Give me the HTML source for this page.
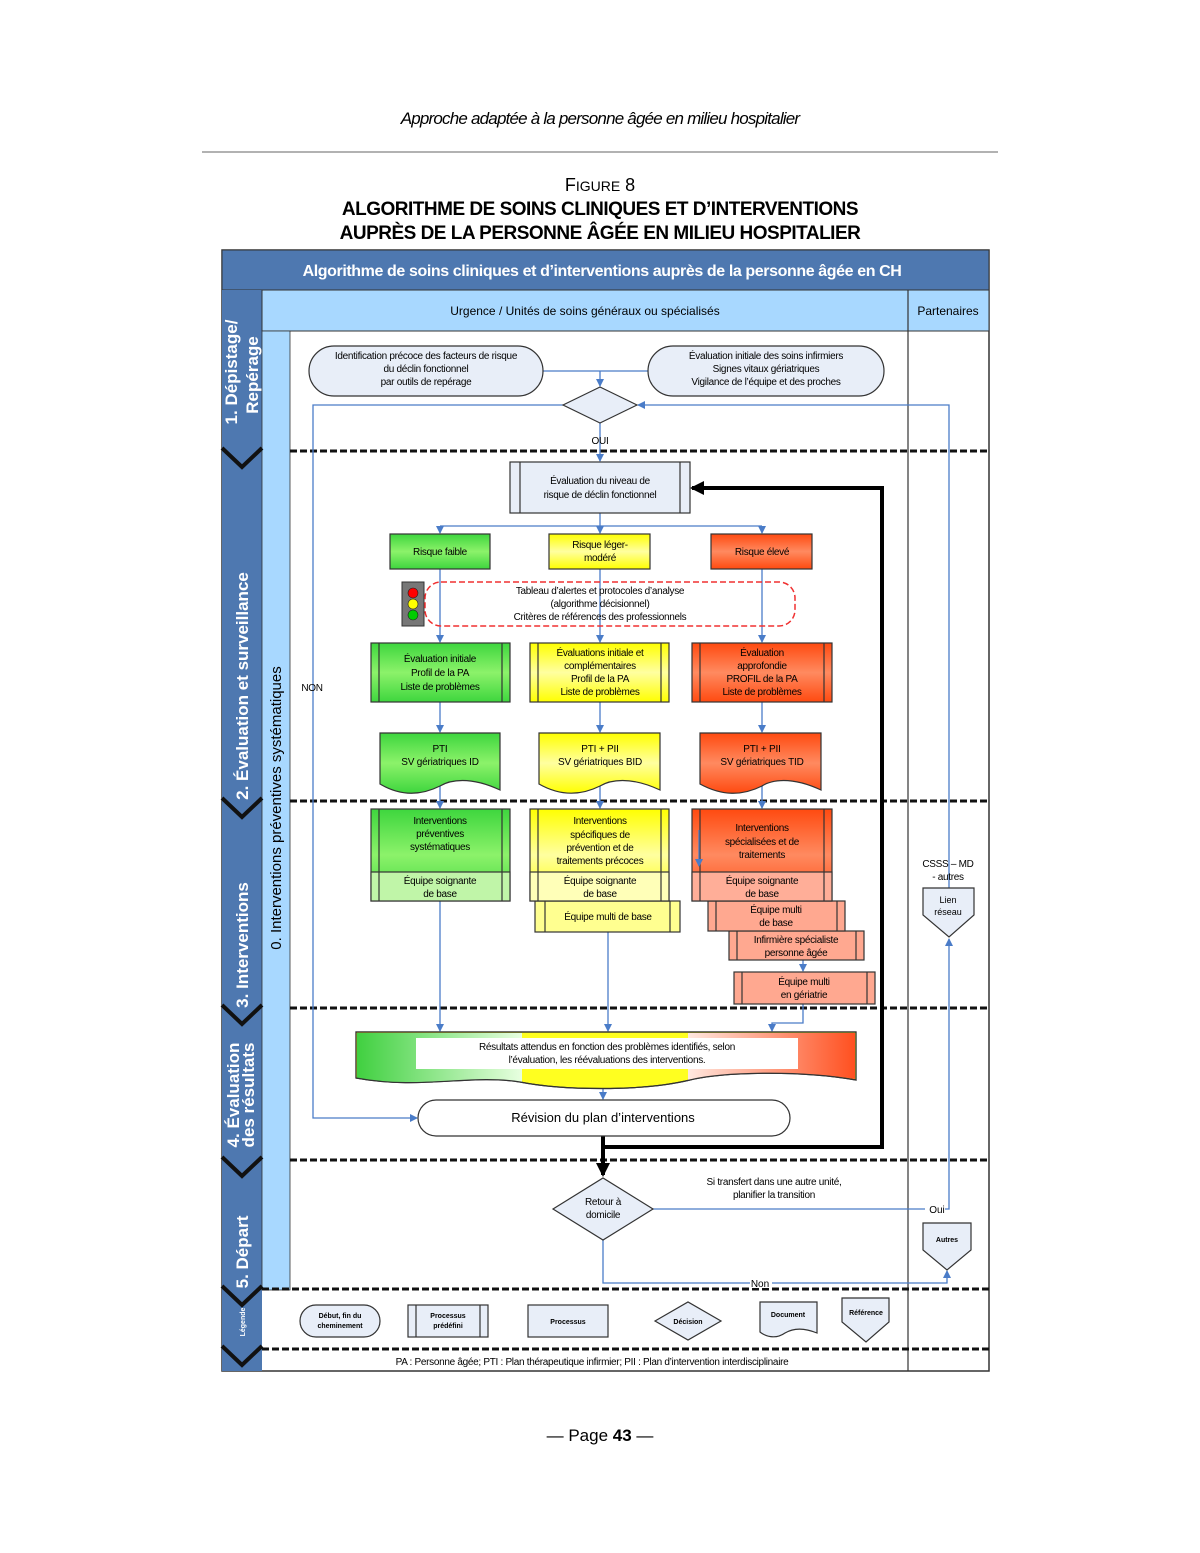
<!DOCTYPE html>
<html><head><meta charset="utf-8"><style>
html,body{margin:0;padding:0;background:#fff;}
svg{display:block;}
text{font-family:"Liberation Sans",sans-serif;}
</style></head><body>
<svg width="1200" height="1553" viewBox="0 0 1200 1553" xmlns="http://www.w3.org/2000/svg">
<defs>
<linearGradient id="gG" x1="0" y1="0" x2="0" y2="1"><stop offset="0" stop-color="#3ed63e"/><stop offset="0.5" stop-color="#8cf26a"/><stop offset="1" stop-color="#3ed63e"/></linearGradient>
<linearGradient id="gY" x1="0" y1="0" x2="0" y2="1"><stop offset="0" stop-color="#ffff00"/><stop offset="0.5" stop-color="#ffffa0"/><stop offset="1" stop-color="#ffff00"/></linearGradient>
<linearGradient id="gR" x1="0" y1="0" x2="0" y2="1"><stop offset="0" stop-color="#ff4a10"/><stop offset="0.5" stop-color="#ff8a60"/><stop offset="1" stop-color="#ff4a10"/></linearGradient>
<linearGradient id="rG" x1="0" y1="0" x2="1" y2="0"><stop offset="0" stop-color="#40d040"/><stop offset="1" stop-color="#e8ffe0"/></linearGradient>
<linearGradient id="rR" x1="0" y1="0" x2="1" y2="0"><stop offset="0" stop-color="#ffe8e0"/><stop offset="1" stop-color="#ff5020"/></linearGradient>
<marker id="ab" markerWidth="8" markerHeight="8" refX="7" refY="4" orient="auto" markerUnits="userSpaceOnUse"><path d="M0,0 L8,4 L0,8 z" fill="#4a7cc8"/></marker>
<marker id="ak" markerWidth="14" markerHeight="14" refX="12" refY="7" orient="auto" markerUnits="userSpaceOnUse"><path d="M0,0 L14,7 L0,14 z" fill="#000"/></marker>
</defs>

<!-- page header -->
<text x="600" y="124" font-size="17" font-style="italic" text-anchor="middle" letter-spacing="-0.8">Approche adaptée à la personne âgée en milieu hospitalier</text>
<line x1="202" y1="152" x2="998" y2="152" stroke="#999" stroke-width="1.5"/>
<text x="600" y="191" font-size="18" text-anchor="middle">F<tspan font-size="14">IGURE</tspan> 8</text>
<text x="600" y="215" font-size="19" font-weight="bold" text-anchor="middle" letter-spacing="-0.5">ALGORITHME DE SOINS CLINIQUES ET D’INTERVENTIONS</text>
<text x="600" y="239" font-size="19" font-weight="bold" text-anchor="middle" letter-spacing="-0.5">AUPRÈS DE LA PERSONNE ÂGÉE EN MILIEU HOSPITALIER</text>

<!-- frame -->
<rect x="222" y="250" width="767" height="1121" fill="#fff" stroke="#333" stroke-width="1.5"/>
<rect x="222" y="250" width="767" height="40" fill="#4e78b0" stroke="#333"/>
<text x="602" y="276" font-size="16" font-weight="bold" fill="#fff" text-anchor="middle" letter-spacing="-0.4">Algorithme de soins cliniques et d’interventions auprès de la personne âgée en CH</text>
<rect x="222" y="290" width="40" height="1081" fill="#4e78b0"/>
<rect x="262" y="290" width="727" height="41" fill="#a8d8ff" stroke="#333"/>
<line x1="908" y1="290" x2="908" y2="1371" stroke="#333" stroke-width="1.2"/>
<text x="585" y="315" font-size="12" text-anchor="middle">Urgence / Unités de soins généraux ou spécialisés</text>
<text x="948" y="315" font-size="12" text-anchor="middle">Partenaires</text>
<rect x="262" y="331" width="28" height="959" fill="#a8d8ff" stroke="#333" stroke-width="0.8"/>
<text transform="translate(281,808) rotate(-90)" font-size="15" text-anchor="middle">0. Interventions préventives systématiques</text>

<!-- lane labels -->
<g fill="#fff" font-weight="bold" text-anchor="middle" font-size="17">
<text transform="translate(237,372) rotate(-90)">1. Dépistage/</text>
<text transform="translate(258,375) rotate(-90)">Repérage</text>
<text transform="translate(248,686) rotate(-90)">2. Évaluation et surveillance</text>
<text transform="translate(248,945) rotate(-90)">3. Interventions</text>
<text transform="translate(239,1095) rotate(-90)">4. Évaluation</text>
<text transform="translate(254,1095) rotate(-90)">des résultats</text>
<text transform="translate(248,1252) rotate(-90)">5. Départ</text>
<text transform="translate(245,1322) rotate(-90)" font-size="7">Légende</text>
</g>
<g fill="none" stroke="#111" stroke-width="4">
<path d="M222,448 L242,467 L262,448"/>
<path d="M222,798 L242,817 L262,798"/>
<path d="M222,1005 L242,1024 L262,1005"/>
<path d="M222,1157 L242,1176 L262,1157"/>
<path d="M222,1286 L242,1305 L262,1286"/>
<path d="M222,1346 L242,1365 L262,1346"/>
</g>
<g stroke="#111" stroke-width="3" stroke-dasharray="7,3">
<line x1="290" y1="451" x2="989" y2="451"/>
<line x1="290" y1="801" x2="989" y2="801"/>
<line x1="290" y1="1008" x2="989" y2="1008"/>
<line x1="290" y1="1160" x2="989" y2="1160"/>
<line x1="262" y1="1289" x2="989" y2="1289"/>
<line x1="262" y1="1349" x2="989" y2="1349"/>
</g>

<!-- connectors blue -->
<g fill="none" stroke="#4a7cc8" stroke-width="1.3">
<path d="M543,371 L648,371"/>
<path d="M600,371 L600,386" marker-end="url(#ab)"/>
<path d="M600,423 L600,461" marker-end="url(#ab)"/>
<path d="M563,405 L313,405 L313,1118 L417,1118" marker-end="url(#ab)"/>
<path d="M949,888 L949,405 L638,405" marker-end="url(#ab)"/>
<path d="M600,513 L600,533" marker-end="url(#ab)"/>
<path d="M440,526 L762,526"/>
<path d="M440,526 L440,533" marker-end="url(#ab)"/>
<path d="M762,526 L762,533" marker-end="url(#ab)"/>
<path d="M440,569 L440,642" marker-end="url(#ab)"/>
<path d="M600,569 L600,642" marker-end="url(#ab)"/>
<path d="M762,569 L762,642" marker-end="url(#ab)"/>
<path d="M440,702 L440,732" marker-end="url(#ab)"/>
<path d="M600,702 L600,732" marker-end="url(#ab)"/>
<path d="M762,702 L762,732" marker-end="url(#ab)"/>
<path d="M440,785 L440,808" marker-end="url(#ab)"/>
<path d="M600,785 L600,808" marker-end="url(#ab)"/>
<path d="M762,785 L762,808" marker-end="url(#ab)"/>
<path d="M440,901 L440,1031" marker-end="url(#ab)"/>
<path d="M608,932 L608,1031" marker-end="url(#ab)"/>
<path d="M803,960 L803,971" marker-end="url(#ab)"/>
<path d="M803,1004 L803,1023 L772,1023 L772,1031" marker-end="url(#ab)"/>
<path d="M699,830 L699,870" marker-end="url(#ab)"/>
<path d="M603,1078 L603,1099" marker-end="url(#ab)"/>
<path d="M653,1209 L949,1209 L949,939" marker-end="url(#ab)"/>
<path d="M603,1240 L603,1283 L947,1283 L947,1271" marker-end="url(#ab)"/>
</g>
<!-- thick black -->
<g fill="none" stroke="#000" stroke-width="4">
<path d="M603,1136 L603,1175" marker-end="url(#ak)"/>
<path d="M603,1147 L882,1147 L882,488 L692,488" marker-end="url(#ak)"/>
</g>

<!-- top terminators -->
<g fill="#e8eef8" stroke="#333" stroke-width="1.2">
<rect x="309" y="346" width="234" height="50" rx="25"/>
<rect x="648" y="346" width="236" height="50" rx="25"/>
<path d="M563,405 L600,387 L637,405 L600,423 z"/>
<rect x="510" y="462" width="180" height="51"/>
<line x1="520" y1="462" x2="520" y2="513"/>
<line x1="680" y1="462" x2="680" y2="513"/>
</g>
<g font-size="10" text-anchor="middle" letter-spacing="-0.3">
<text x="426" y="359">Identification précoce des facteurs de risque</text>
<text x="426" y="372">du déclin fonctionnel</text>
<text x="426" y="385">par outils de repérage</text>
<text x="766" y="359">Évaluation initiale des soins infirmiers</text>
<text x="766" y="372">Signes vitaux gériatriques</text>
<text x="766" y="385">Vigilance de l’équipe et des proches</text>
<text x="600" y="444">OUI</text>
<text x="600" y="484">Évaluation du niveau de</text>
<text x="600" y="498">risque de déclin fonctionnel</text>
<text x="312" y="691">NON</text>
</g>

<!-- risk boxes -->
<g stroke="#333" stroke-width="1.2">
<rect x="390" y="534" width="100" height="35" fill="url(#gG)"/>
<rect x="549" y="534" width="101" height="35" fill="url(#gY)"/>
<rect x="711" y="534" width="101" height="35" fill="url(#gR)"/>
</g>
<g font-size="10" text-anchor="middle" letter-spacing="-0.3">
<text x="440" y="555">Risque faible</text>
<text x="600" y="548">Risque léger-</text>
<text x="600" y="561">modéré</text>
<text x="762" y="555">Risque élevé</text>
</g>

<!-- traffic light & dashed -->
<rect x="402" y="582" width="22" height="44" fill="#777" stroke="#333"/>
<circle cx="413" cy="593" r="5" fill="#f00" stroke="#222" stroke-width="0.6"/>
<circle cx="413" cy="604" r="5" fill="#ff0" stroke="#222" stroke-width="0.6"/>
<circle cx="413" cy="615" r="5" fill="#0c0" stroke="#222" stroke-width="0.6"/>
<rect x="425" y="582" width="370" height="44" rx="16" fill="none" stroke="#f03030" stroke-width="1.5" stroke-dasharray="6,3"/>
<g font-size="10" text-anchor="middle" letter-spacing="-0.3">
<text x="600" y="594">Tableau d’alertes et protocoles d’analyse</text>
<text x="600" y="607">(algorithme décisionnel)</text>
<text x="600" y="620">Critères de références des professionnels</text>
</g>

<!-- eval boxes -->
<g stroke="#333" stroke-width="1.2">
<rect x="371" y="643" width="139" height="59" fill="url(#gG)"/>
<rect x="530" y="643" width="139" height="59" fill="url(#gY)"/>
<rect x="692" y="643" width="140" height="59" fill="url(#gR)"/>
<line x1="379" y1="643" x2="379" y2="702"/><line x1="502" y1="643" x2="502" y2="702"/>
<line x1="538" y1="643" x2="538" y2="702"/><line x1="661" y1="643" x2="661" y2="702"/>
<line x1="700" y1="643" x2="700" y2="702"/><line x1="824" y1="643" x2="824" y2="702"/>
</g>
<g font-size="10" text-anchor="middle" letter-spacing="-0.3">
<text x="440" y="662">Évaluation initiale</text>
<text x="440" y="676">Profil de la PA</text>
<text x="440" y="690">Liste de problèmes</text>
<text x="600" y="656">Évaluations initiale et</text>
<text x="600" y="669">complémentaires</text>
<text x="600" y="682">Profil de la PA</text>
<text x="600" y="695">Liste de problèmes</text>
<text x="762" y="656">Évaluation</text>
<text x="762" y="669">approfondie</text>
<text x="762" y="682">PROFIL de la PA</text>
<text x="762" y="695">Liste de problèmes</text>
</g>

<!-- documents -->
<g stroke="#333" stroke-width="1.2">
<path d="M380,733 L500,733 L500,790 C470,776 450,780 440,786 C420,796 400,796 380,784 z" fill="url(#gG)"/>
<path d="M539,733 L660,733 L660,790 C630,776 610,780 600,786 C580,796 560,796 539,784 z" fill="url(#gY)"/>
<path d="M700,733 L821,733 L821,790 C791,776 771,780 762,786 C742,796 722,796 700,784 z" fill="url(#gR)"/>
</g>
<g font-size="10" text-anchor="middle" letter-spacing="-0.2">
<text x="440" y="752">PTI</text><text x="440" y="765">SV gériatriques ID</text>
<text x="600" y="752">PTI + PII</text><text x="600" y="765">SV gériatriques BID</text>
<text x="762" y="752">PTI + PII</text><text x="762" y="765">SV gériatriques TID</text>
</g>

<!-- interventions -->
<g stroke="#333" stroke-width="1.2">
<rect x="371" y="809" width="139" height="92" fill="url(#gG)"/>
<rect x="371" y="872" width="139" height="29" fill="#c0f5a8"/>
<line x1="379" y1="809" x2="379" y2="901"/><line x1="502" y1="809" x2="502" y2="901"/>
<rect x="535" y="901" width="145" height="31" fill="#ffff90"/>
<line x1="545" y1="901" x2="545" y2="932"/><line x1="670" y1="901" x2="670" y2="932"/>
<rect x="530" y="809" width="139" height="92" fill="url(#gY)"/>
<rect x="530" y="872" width="139" height="29" fill="#ffffb8"/>
<line x1="538" y1="809" x2="538" y2="901"/><line x1="661" y1="809" x2="661" y2="901"/>
<rect x="734" y="972" width="141" height="32" fill="#ffa890"/>
<line x1="742" y1="972" x2="742" y2="1004"/><line x1="867" y1="972" x2="867" y2="1004"/>
<rect x="729" y="931" width="135" height="29" fill="#ffa890"/>
<line x1="737" y1="931" x2="737" y2="960"/><line x1="856" y1="931" x2="856" y2="960"/>
<rect x="708" y="901" width="137" height="30" fill="#ffa890"/>
<line x1="716" y1="901" x2="716" y2="931"/><line x1="837" y1="901" x2="837" y2="931"/>
<rect x="692" y="809" width="140" height="92" fill="url(#gR)"/>
<rect x="692" y="872" width="140" height="29" fill="#ffae98"/>
<line x1="700" y1="809" x2="700" y2="901"/><line x1="824" y1="809" x2="824" y2="901"/>
</g>
<path d="M699,830 L699,866" stroke="#4a7cc8" stroke-width="1.3" marker-end="url(#ab)"/>
<g font-size="10" text-anchor="middle" letter-spacing="-0.3">
<text x="440" y="824">Interventions</text><text x="440" y="837">préventives</text><text x="440" y="850">systématiques</text>
<text x="440" y="884">Équipe soignante</text><text x="440" y="897">de base</text>
<text x="600" y="824">Interventions</text><text x="600" y="838">spécifiques de</text><text x="600" y="851">prévention et de</text><text x="600" y="864">traitements précoces</text>
<text x="600" y="884">Équipe soignante</text><text x="600" y="897">de base</text>
<text x="608" y="920">Équipe multi de base</text>
<text x="762" y="831">Interventions</text><text x="762" y="845">spécialisées et de</text><text x="762" y="858">traitements</text>
<text x="762" y="884">Équipe soignante</text><text x="762" y="897">de base</text>
<text x="776" y="913">Équipe multi</text><text x="776" y="926">de base</text>
<text x="796" y="943">Infirmière spécialiste</text><text x="796" y="956">personne âgée</text>
<text x="804" y="985">Équipe multi</text><text x="804" y="998">en gériatrie</text>
</g>

<!-- results -->
<g stroke="#333" stroke-width="1.2">
<path d="M356,1032 L856,1032 L856,1080 C800,1070 720,1072 690,1080 C640,1092 560,1090 520,1082 C470,1074 420,1090 356,1078 z" fill="#ffff20"/>
</g>
<path d="M357,1033 L522,1033 L522,1082 C470,1074 420,1090 357,1078 z" fill="url(#rG)"/>
<path d="M688,1033 L855,1033 L855,1079 C800,1070 720,1072 688,1080 z" fill="url(#rR)"/>
<path d="M356,1032 L856,1032 L856,1080 C800,1070 720,1072 690,1080 C640,1092 560,1090 520,1082 C470,1074 420,1090 356,1078 z" fill="none" stroke="#333" stroke-width="1.2"/>
<rect x="416" y="1038" width="382" height="31" fill="#fff"/>
<g font-size="10" text-anchor="middle" letter-spacing="-0.3">
<text x="607" y="1050">Résultats attendus en fonction des problèmes identifiés, selon</text>
<text x="607" y="1063">l’évaluation, les réévaluations des interventions.</text>
</g>
<rect x="418" y="1100" width="372" height="36" rx="18" fill="#fff" stroke="#333" stroke-width="1.2"/>
<text x="603" y="1122" font-size="13" text-anchor="middle">Révision du plan d’interventions</text>

<!-- depart -->
<path d="M553,1209 L603,1178 L653,1209 L603,1240 z" fill="#e8eef8" stroke="#333" stroke-width="1.2"/>
<g font-size="10" text-anchor="middle" letter-spacing="-0.3">
<text x="603" y="1205">Retour à</text><text x="603" y="1218">domicile</text>
<text x="774" y="1185">Si transfert dans une autre unité,</text>
<text x="774" y="1198">planifier la transition</text>
<text x="936" y="1213" fill="#000">Oui</text>
<text x="760" y="1287">Non</text>
<text x="948" y="867">CSSS – MD</text><text x="948" y="880">- autres</text>
</g>
<rect x="925" y="1204" width="20" height="10" fill="#fff"/>
<text x="937" y="1213" font-size="10" text-anchor="middle">Oui</text>
<rect x="750" y="1278" width="22" height="10" fill="#fff"/>
<text x="760" y="1287" font-size="10" text-anchor="middle">Non</text>
<path d="M923,888 L974,888 L974,915 L949,937 L923,915 z" fill="#e8eef8" stroke="#333" stroke-width="1.2"/>
<text x="948" y="903" font-size="9" text-anchor="middle">Lien</text><text x="948" y="915" font-size="9" text-anchor="middle">réseau</text>
<path d="M923,1223 L971,1223 L971,1250 L947,1270 L923,1250 z" fill="#e8eef8" stroke="#333" stroke-width="1.2"/>
<text x="947" y="1242" font-size="7" font-weight="bold" text-anchor="middle">Autres</text>

<!-- legend -->
<g fill="#e8eef8" stroke="#333" stroke-width="1.2">
<rect x="300" y="1305" width="80" height="32" rx="16"/>
<rect x="408" y="1305" width="80" height="32"/>
<line x1="416" y1="1305" x2="416" y2="1337"/><line x1="480" y1="1305" x2="480" y2="1337"/>
<rect x="528" y="1305" width="80" height="32"/>
<path d="M655,1321 L688,1302 L721,1321 L688,1340 z"/>
<path d="M760,1302 L817,1302 L817,1333 C800,1326 790,1330 785,1333 C775,1340 765,1336 760,1332 z"/>
<path d="M842,1298 L889,1298 L889,1322 L866,1342 L842,1322 z"/>
</g>
<g font-size="7" font-weight="bold" text-anchor="middle">
<text x="340" y="1318">Début, fin du</text><text x="340" y="1328">cheminement</text>
<text x="448" y="1318">Processus</text><text x="448" y="1328">prédéfini</text>
<text x="568" y="1324">Processus</text>
<text x="688" y="1324">Décision</text>
<text x="788" y="1317">Document</text>
<text x="866" y="1315">Référence</text>
</g>
<text x="592" y="1365" font-size="10" text-anchor="middle" letter-spacing="-0.3">PA : Personne âgée; PTI : Plan thérapeutique infirmier; PII : Plan d’intervention interdisciplinaire</text>

<text x="600" y="1441" font-size="17" text-anchor="middle">— Page <tspan font-weight="bold">43</tspan> —</text>
</svg>
</body></html>
